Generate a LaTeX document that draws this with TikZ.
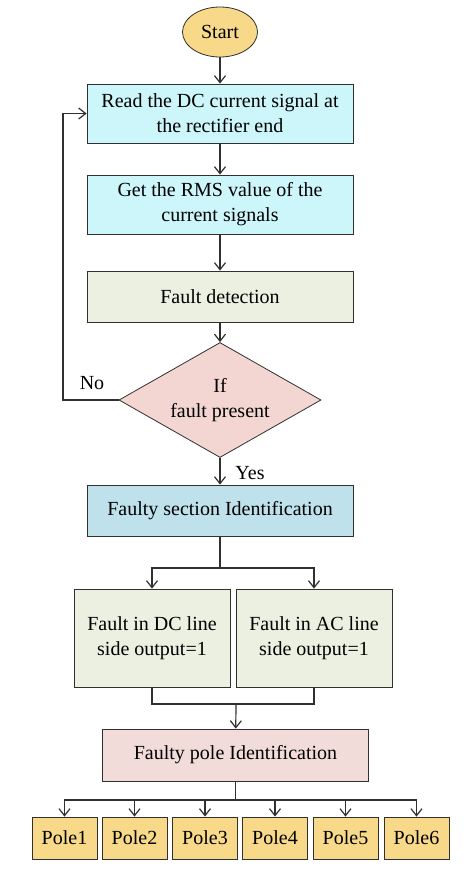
\documentclass[tikz,border=0pt]{standalone}
\usepackage{fontspec}
\setmainfont{Liberation Serif}
\usetikzlibrary{shapes.geometric,arrows.meta}
\definecolor{startcol}{HTML}{F8D98A}
\definecolor{readcol}{HTML}{CCF6FA}
\definecolor{detcol}{HTML}{EBF0E1}
\definecolor{ifcol}{HTML}{F3D6D2}
\definecolor{sectcol}{HTML}{BFE1EC}
\definecolor{polecol}{HTML}{F2DCDA}
\definecolor{linecol}{HTML}{303030}
\tikzset{
  box/.style={draw=linecol, line width=0.8pt, minimum width=266pt, minimum height=59pt,
    inner sep=0pt, align=center, font=\fontsize{20}{25}\selectfont},
  polebox/.style={box, fill=startcol, minimum width=65pt, minimum height=42pt},
  line/.style={draw=linecol, line width=1.2pt},
  link/.style={line, -{Straight Barb[length=7pt,width=11pt]}},
}
\begin{document}
\begin{tikzpicture}[x=1pt, y=-1pt]
\useasboundingbox (0,0) rectangle (474,873);
% main column
\node[ellipse, draw=linecol, line width=0.8pt, fill=startcol, minimum width=75pt, minimum height=50pt,
  inner sep=0pt, font=\fontsize{20}{25}\selectfont] (start) at (220,32) {Start};
\node[box, fill=readcol] (read) at (220,113.5) {Read the DC current signal at\\the rectifier end};
\node[box, fill=readcol] (rms) at (220,204.5) {Get the RMS value of the\\current signals};
\node[box, fill=detcol, minimum height=51pt] (detect) at (220,296.5) {Fault detection};
\node[diamond, aspect=1.76, draw=linecol, line width=0.8pt, fill=ifcol, minimum width=202pt, minimum height=115pt,
  inner sep=0pt, align=center, font=\fontsize{20}{25}\selectfont] (if) at (220,400) {If\\fault present};
\node[box, fill=sectcol, minimum height=51pt] (sect) at (220,510.5) {Faulty section Identification};
% two sides
\node[box, fill=detcol, minimum width=156pt, minimum height=98pt] (dc) at (152,638) {Fault in DC line\\side output=1};
\node[box, fill=detcol, minimum width=156pt, minimum height=98pt] (ac) at (314,638) {Fault in AC line\\side output=1};
\node[box, fill=polecol, minimum height=52pt] (pole) at (235.5,755) {Faulty pole Identification};
\foreach \i/\x in {1/64.5,2/134.5,3/205,4/275,5/345.5,6/416.5}
  \node[polebox] (p\i) at (\x,838) {Pole\i};
% labels
\node[font=\fontsize{20}{25}\selectfont] (no) at (92,383) {No};
\node[font=\fontsize{20}{25}\selectfont] (yes) at (250,473) {Yes};
% connectors
\coordinate (back) at (63,400);
\coordinate (split) at (220,568);
\coordinate (merge) at (236,704);
\coordinate (fan) at (235.5,800);
\draw[link] (start) -- (read);
\draw[link] (read) -- (rms);
\draw[link] (rms) -- (detect);
\draw[link] (detect) -- (if);
\draw[link] (if.west) -- (back) |- (read.west);
\draw[link] (if) -- (sect);
\draw[line] (sect) -- (split);
\draw[link] (split) -| (dc);
\draw[link] (split) -| (ac);
\draw[line] (dc) |- (merge) -| (ac);
\draw[link] (merge) -- (pole);
\draw[line, line width=1.8pt] (pole) -- (fan);
\foreach \i in {1,...,6}
  \draw[link] (fan) -| (p\i);
\end{tikzpicture}
\end{document}
